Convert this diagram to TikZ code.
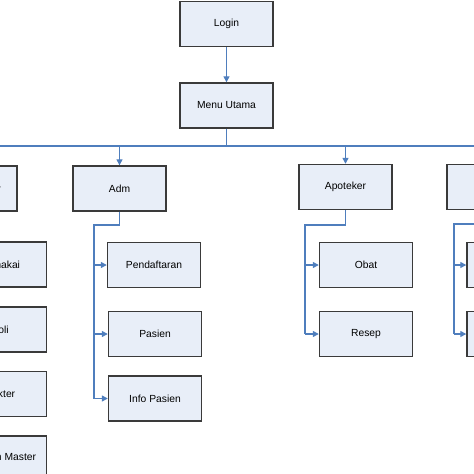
\documentclass[tikz,border=0pt]{standalone}
\usepackage{fontspec}
\setmainfont{Liberation Sans}
\usetikzlibrary{arrows.meta}
\definecolor{boxfill}{HTML}{E8EEF8}
\definecolor{boxline}{HTML}{3A3A3A}
\definecolor{linkblue}{HTML}{4F7EBD}
\tikzset{menu/.style={draw=boxline,fill=boxfill,line width=1.4pt,
    minimum width=93pt,minimum height=45pt,inner sep=0pt,
    font=\fontsize{10.3}{12}\selectfont},
    link/.style={draw=linkblue,line width=1.3pt},
    arr/.style={link,-{Triangle[length=6pt,width=6pt]}},
    }
\begin{document}
\begin{tikzpicture}[x=1pt,y=-1pt]
\useasboundingbox (0,0) rectangle (474,474);
\clip (0,0) rectangle (474,474);
% top
\node[menu] (login) at (226.5,24) {Login};
\node[menu] (utama) at (226.5,105.5) {Menu Utama};
\coordinate (bus) at (226.5,146);
% level 1
\node[menu] (admin) at (-29.5,188.5) {Administrator};
\node[menu] (adm) at (119.5,188.5) {Adm};
\node[menu] (apt) at (345.5,187) {Apoteker};
\node[menu] (kanan) at (493.5,187) {};
% Administrator
\node[menu] (pemakai) at (0,264.5) {Pemakai};
\node[menu] (poli) at (0,329.5) {Poli};
\node[menu] (dokter) at (0,394) {Dokter};
\node[menu] (master) at (0,458.5) {Laporan Master};
% Adm
\node[menu] (daftar) at (154,265) {Pendaftaran};
\node[menu] (pasien) at (155,334) {Pasien};
\node[menu] (ipasien) at (155,398.5) {Info Pasien};
% Apoteker
\node[menu] (obat) at (366,265) {Obat};
\node[menu] (resep) at (366,334) {Resep};
% kanan
\node[menu] (kanan1) at (513.5,265) {};
\node[menu] (kanan2) at (513.5,334) {};
\coordinate (adminj) at (-60,225);
\coordinate (admj) at (94,225);
\coordinate (aptj) at (305,225);
\coordinate (kananj) at (454,224);
\draw[arr] (login) -- (utama);
\draw[link] (utama) -- (bus);
\draw[link] (admin.north |- bus) -- (kanan.north |- bus);
\foreach \n in {admin,adm,apt,kanan}
  \draw[arr] (\n.north |- bus) -- (\n);
\draw[link] (admin) -- (admin |- adminj) -- (adminj) -- (adminj |- master);
\foreach \c in {pemakai,poli,dokter,master}
  \draw[arr] (adminj |- \c) -- (\c);
\draw[link] (adm) -- (adm |- admj) -- (admj) -- (admj |- ipasien);
\foreach \c in {daftar,pasien,ipasien}
  \draw[arr] (admj |- \c) -- (\c);
\draw[link] (apt) -- (apt |- aptj) -- (aptj) -- (aptj |- resep);
\foreach \c in {obat,resep}
  \draw[arr] (aptj |- \c) -- (\c);
\draw[link] (kanan) -- (kanan |- kananj) -- (kananj) -- (kananj |- kanan2);
\foreach \c in {kanan1,kanan2}
  \draw[arr] (kananj |- \c) -- (\c);
\end{tikzpicture}
\end{document}
